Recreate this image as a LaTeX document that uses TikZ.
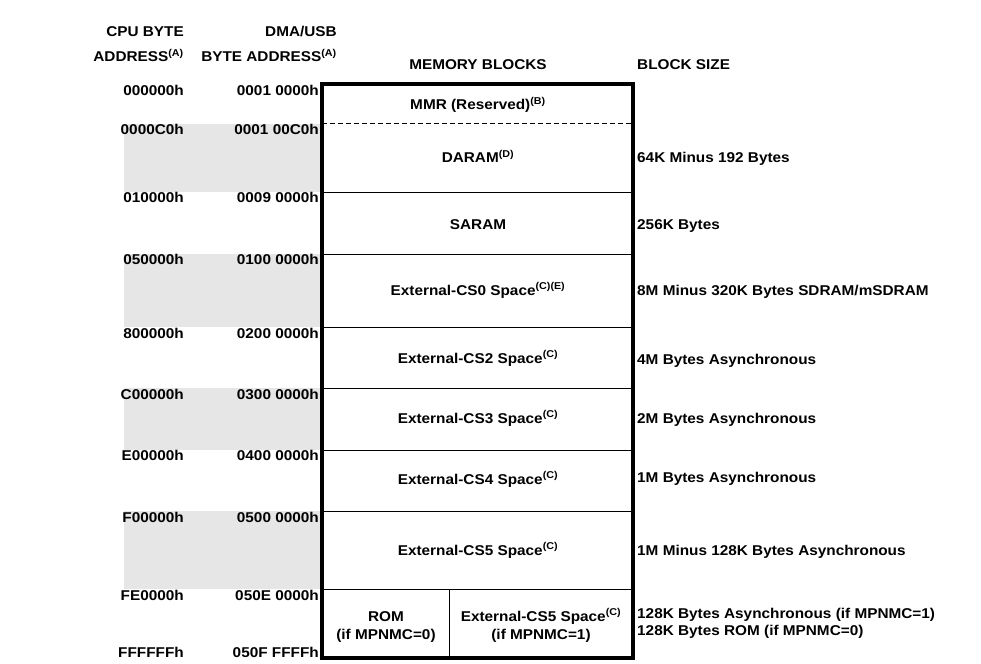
\documentclass[tikz,border=0pt]{standalone}
\usepackage{fontspec}
\setmainfont{Liberation Sans}[FakeStretch=1.08]
\definecolor{bandgrey}{HTML}{E6E6E6}
\newcommand{\sups}[1]{\textsuperscript{#1}}
\begin{document}
\begin{tikzpicture}[x=1pt,y=-1pt,
  every node/.style={font=\fontsize{14.2}{16.5}\selectfont\bfseries, inner sep=0pt, text=black},
  addr/.style={anchor=base east},
  blk/.style={anchor=base},
  sz/.style={anchor=base west},
  band/.style={fill=bandgrey},
  divline/.style={line width=1pt},
  outer/.style={line width=3.5pt}]
\useasboundingbox (0,0) rectangle (981,663);
% grey bands
\fill[band] (124,124) rectangle (321,192);
\fill[band] (124,254) rectangle (321,327);
\fill[band] (124,388) rectangle (321,450);
\fill[band] (124,511) rectangle (321,589);
% dividers
\draw[divline, dash pattern=on 5pt off 3pt] (322,124) -- (633,124);
\foreach \yy in {192,254,327,388,450,511,589}
  \draw[divline] (322,\yy) -- (633,\yy);
\draw[divline] (449,589) -- (449,658);
\draw[outer] (322,84) rectangle (633,658);
% headers
\node[addr] (h1a) at (184,37) {CPU BYTE};
\node[addr] (h1b) at (184,62) {ADDRESS\sups{(A)}};
\node[addr] (h2a) at (337,37) {DMA/USB};
\node[addr] (h2b) at (337,62) {BYTE ADDRESS\sups{(A)}};
\node[blk] (h3) at (478,70) {MEMORY BLOCKS};
\node[sz] (h4) at (637,70) {BLOCK SIZE};
% CPU addresses
\node[addr] (c0) at (184,96) {000000h};
\node[addr] (c1) at (184,135) {0000C0h};
\node[addr] (c2) at (184,202) {010000h};
\node[addr] (c3) at (184,264) {050000h};
\node[addr] (c4) at (184,338) {800000h};
\node[addr] (c5) at (184,399) {C00000h};
\node[addr] (c6) at (184,460) {E00000h};
\node[addr] (c7) at (184,522) {F00000h};
\node[addr] (c8) at (184,600) {FE0000h};
\node[addr] (c9) at (184,657) {FFFFFFh};
% DMA addresses
\node[addr] (d0) at (319,96) {0001 0000h};
\node[addr] (d1) at (319,135) {0001 00C0h};
\node[addr] (d2) at (319,202) {0009 0000h};
\node[addr] (d3) at (319,264) {0100 0000h};
\node[addr] (d4) at (319,338) {0200 0000h};
\node[addr] (d5) at (319,399) {0300 0000h};
\node[addr] (d6) at (319,460) {0400 0000h};
\node[addr] (d7) at (319,522) {0500 0000h};
\node[addr] (d8) at (319,600) {050E 0000h};
\node[addr] (d9) at (319,657) {050F FFFFh};
% memory blocks
\node[blk] (b0) at (478,110) {MMR (Reserved)\sups{(B)}};
\node[blk] (b1) at (478,163) {DARAM\sups{(D)}};
\node[blk] (b2) at (478,229) {SARAM};
\node[blk] (b3) at (478,295) {External-CS0 Space\sups{(C)(E)}};
\node[blk] (b4) at (478,363) {External-CS2 Space\sups{(C)}};
\node[blk] (b5) at (478,423) {External-CS3 Space\sups{(C)}};
\node[blk] (b6) at (478,484) {External-CS4 Space\sups{(C)}};
\node[blk] (b7) at (478,555) {External-CS5 Space\sups{(C)}};
\node[blk] (r1) at (386,621) {ROM};
\node[blk] (r2) at (386,639) {(if MPNMC=0)};
\node[blk] (e1) at (541,621) {External-CS5 Space\sups{(C)}};
\node[blk] (e2) at (541,639) {(if MPNMC=1)};
% block sizes
\node[sz] (s1) at (637,163) {64K Minus 192 Bytes};
\node[sz] (s2) at (637,229) {256K Bytes};
\node[sz] (s3) at (637,295) {8M Minus 320K Bytes SDRAM/mSDRAM};
\node[sz] (s4) at (637,364) {4M Bytes Asynchronous};
\node[sz] (s5) at (637,423) {2M Bytes Asynchronous};
\node[sz] (s6) at (637,482) {1M Bytes Asynchronous};
\node[sz] (s7) at (637,555) {1M Minus 128K Bytes Asynchronous};
\node[sz] (s8) at (637,618) {128K Bytes Asynchronous (if MPNMC=1)};
\node[sz] (s9) at (637,635) {128K Bytes ROM (if MPNMC=0)};
\end{tikzpicture}
\end{document}
